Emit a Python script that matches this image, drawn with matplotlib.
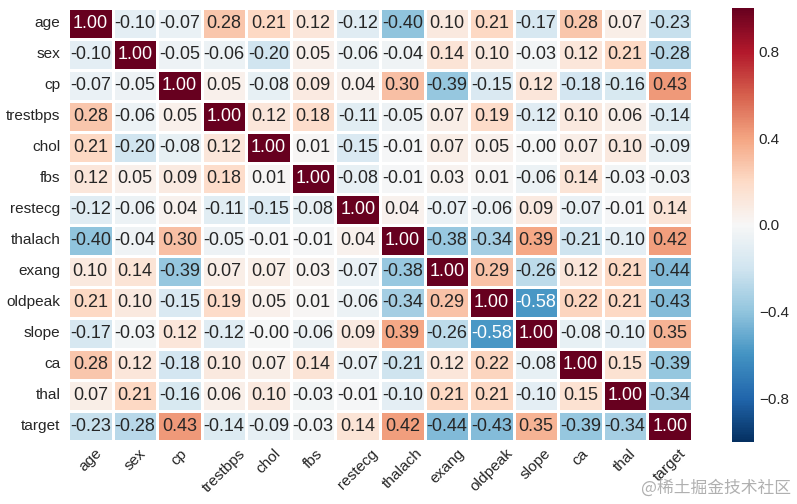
import numpy as np
import seaborn as sns
import matplotlib
matplotlib.use("Agg")
import matplotlib.pyplot as plt

labels = ["age", "sex", "cp", "trestbps", "chol", "fbs", "restecg", "thalach",
          "exang", "oldpeak", "slope", "ca", "thal", "target"]

corr = np.array([
    [1.00, -0.10, -0.07, 0.28, 0.21, 0.12, -0.12, -0.40, 0.10, 0.21, -0.17, 0.28, 0.07, -0.23],
    [-0.10, 1.00, -0.05, -0.06, -0.20, 0.05, -0.06, -0.04, 0.14, 0.10, -0.03, 0.12, 0.21, -0.28],
    [-0.07, -0.05, 1.00, 0.05, -0.08, 0.09, 0.04, 0.30, -0.39, -0.15, 0.12, -0.18, -0.16, 0.43],
    [0.28, -0.06, 0.05, 1.00, 0.12, 0.18, -0.11, -0.05, 0.07, 0.19, -0.12, 0.10, 0.06, -0.14],
    [0.21, -0.20, -0.08, 0.12, 1.00, 0.01, -0.15, -0.01, 0.07, 0.05, -0.004, 0.07, 0.10, -0.09],
    [0.12, 0.05, 0.09, 0.18, 0.01, 1.00, -0.08, -0.01, 0.03, 0.01, -0.06, 0.14, -0.03, -0.03],
    [-0.12, -0.06, 0.04, -0.11, -0.15, -0.08, 1.00, 0.04, -0.07, -0.06, 0.09, -0.07, -0.01, 0.14],
    [-0.40, -0.04, 0.30, -0.05, -0.01, -0.01, 0.04, 1.00, -0.38, -0.34, 0.39, -0.21, -0.10, 0.42],
    [0.10, 0.14, -0.39, 0.07, 0.07, 0.03, -0.07, -0.38, 1.00, 0.29, -0.26, 0.12, 0.21, -0.44],
    [0.21, 0.10, -0.15, 0.19, 0.05, 0.01, -0.06, -0.34, 0.29, 1.00, -0.58, 0.22, 0.21, -0.43],
    [-0.17, -0.03, 0.12, -0.12, -0.004, -0.06, 0.09, 0.39, -0.26, -0.58, 1.00, -0.08, -0.10, 0.35],
    [0.28, 0.12, -0.18, 0.10, 0.07, 0.14, -0.07, -0.21, 0.12, 0.22, -0.08, 1.00, 0.15, -0.39],
    [0.07, 0.21, -0.16, 0.06, 0.10, -0.03, -0.01, -0.10, 0.21, 0.21, -0.10, 0.15, 1.00, -0.34],
    [-0.23, -0.28, 0.43, -0.14, -0.09, -0.03, 0.14, 0.42, -0.44, -0.43, 0.35, -0.39, -0.34, 1.00],
])

plt.rcParams["font.family"] = ["Liberation Sans", "DejaVu Sans"]

fig = plt.figure(figsize=(7.97, 5.04), dpi=100)
ax = fig.add_axes([68 / 797, 1 - 441.5 / 504, (692 - 68) / 797, (441.5 - 8) / 504])
cax = fig.add_axes([732 / 797, 1 - 442 / 504, 22 / 797, (442 - 8) / 504])

sns.heatmap(corr, annot=True, fmt=".2f", cmap="RdBu_r", vmin=-1, vmax=1, linewidths=2,
            xticklabels=labels, yticklabels=labels, ax=ax, cbar_ax=cax,
            annot_kws={"fontsize": 13})

ax.tick_params(length=0, labelsize=11.1, colors="#262626")
ax.tick_params(axis="y", pad=5.5)
plt.setp(ax.get_xticklabels(), rotation=45)
plt.setp(ax.get_yticklabels(), rotation=0)

cax.set_yticks([-0.8, -0.4, 0, 0.4, 0.8])
cax.set_yticklabels(["\u22120.8", "\u22120.4", "0.0", "0.4", "0.8"])
cax.tick_params(length=0, labelsize=11, colors="#262626")
ax.collections[0].colorbar.outline.set_visible(False)

fig.text(791 / 797, 1 - 488 / 504, "@稀土掘金技术社区", ha="right", va="center", fontsize=12.1,
         color="#b0b0b0", family=["Noto Sans CJK SC", "DejaVu Sans"])

fig.savefig("out.png", dpi=100)
